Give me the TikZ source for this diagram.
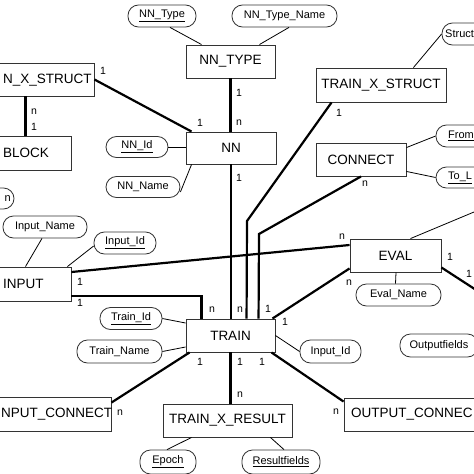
\documentclass[tikz,border=0pt]{standalone}
\usepackage{fontspec}
\setmainfont{Liberation Sans}
\usetikzlibrary{calc}
\newcommand\entfont{\fontsize{13.5}{16}\selectfont}
\newcommand\attfont{\fontsize{11}{13}\selectfont}
\newcommand\lblfont{\fontsize{10.5}{12}\selectfont}
\begin{document}
\begin{tikzpicture}[x=1pt,y=-1pt,
 ent/.style={draw=black!80,line width=0.9pt,inner sep=0pt,font=\entfont},
 attr/.style={draw=black!80,line width=0.8pt,rounded corners=10.5pt,inner sep=0pt,minimum height=22pt,font=\attfont},
 txt/.style={inner sep=0pt,font=\entfont},
 atxt/.style={inner sep=0pt,font=\attfont},
 rel/.style={line width=2.2pt},
 att/.style={line width=0.8pt},
 lbl/.style={inner sep=0pt,font=\lblfont}]
\useasboundingbox (0,0) rectangle (474,474);
\fill[white] (0,0) rectangle (474,474);

% entities
\node[ent,minimum width=89pt,minimum height=33pt] (nntype) at (230.5,61.5) {NN\_TYPE};
\node[ent,minimum width=114pt,minimum height=33pt] (nxs) at (37,79.5) {};
\node[txt,anchor=west] (nxst) at (3,80) {N\_X\_STRUCT};
\node[ent,minimum width=91pt,minimum height=34pt] (block) at (25.5,153) {};
\node[txt,anchor=west] (blockt) at (3,153) {BLOCK};
\node[ent,minimum width=90pt,minimum height=32pt] (nn) at (231,148) {NN};
\node[ent,minimum width=130pt,minimum height=34pt] (txs) at (381,85) {TRAIN\_X\_STRUCT};
\node[ent,minimum width=90pt,minimum height=33pt] (connect) at (361,159.5) {CONNECT};
\node[ent,minimum width=91pt,minimum height=33pt] (eval) at (395.5,255.5) {EVAL};
\node[ent,minimum width=91pt,minimum height=34pt] (input) at (25.5,284) {};
\node[txt,anchor=west] (inputt) at (3,284) {INPUT};
\node[ent,minimum width=89pt,minimum height=33pt] (train) at (230.5,335.5) {TRAIN};
\node[ent,minimum width=131pt,minimum height=34pt] (ic) at (45.5,414) {};
\node[txt,anchor=west] (ict) at (1,414) {NPUT\_CONNECT};
\node[ent,minimum width=129pt,minimum height=33pt] (trx) at (227.5,420.5) {TRAIN\_X\_RESULT};
\node[ent,minimum width=156pt,minimum height=33pt] (oc) at (422,414.5) {};
\node[txt,anchor=west] (oct) at (351,414.5) {OUTPUT\_CONNEC};

% attributes
\node[attr,minimum width=68pt] (nntypea) at (162,16) {\underline{NN\_Type}};
\node[attr,minimum width=105pt] (nntn) at (284.5,16) {NN\_Type\_Name};
\node[attr,minimum width=68pt] (struct) at (476,34) {};
\node[atxt,anchor=west] (structt) at (445,34) {Struct};
\node[attr,minimum width=62pt,minimum height=21pt] (nnid) at (137,147) {\underline{NN\_Id}};
\node[attr,minimum width=74pt,minimum height=21pt] (nnname) at (143,187) {NN\_Name};
\node[attr,minimum width=68pt] (from) at (470,136) {};
\node[atxt,anchor=west] (fromt) at (448,136) {\underline{From}};
\node[attr,minimum width=68pt,minimum height=21pt] (tol) at (470,177.5) {};
\node[atxt,anchor=west] (tolt) at (448,177.5) {\underline{To\_L}};
\node[attr,minimum width=68pt,minimum height=21pt] (leftn) at (-20,198.5) {};
\node[atxt,anchor=east] (leftnt) at (11,198.5) {n};
\node[attr,minimum width=84pt] (inputname) at (45,227) {Input\_Name};
\node[attr,minimum width=62pt] (inputidl) at (125,243) {\underline{Input\_Id}};
\node[attr,minimum width=62pt] (trainid) at (131,318.5) {\underline{Train\_Id}};
\node[attr,minimum width=85pt,minimum height=23pt] (trainname) at (119.5,351.5) {Train\_Name};
\node[attr,minimum width=61pt,minimum height=23pt] (inputidr) at (330.5,351.5) {Input\_Id};
\node[attr,minimum width=78pt,minimum height=23pt] (outf) at (439,345.5) {Outputfields};
\node[attr,minimum width=85pt] (evalname) at (398.5,295) {Eval\_Name};
\node[attr,minimum width=56pt,minimum height=24pt] (epoch) at (168,462) {\underline{Epoch}};
\node[attr,minimum width=78pt,minimum height=24pt] (rf) at (281,462) {\underline{Resultfields}};

% helper coordinates
\coordinate (b1) at (247,221);
\coordinate (b2) at (259,234);
\coordinate (offr) at (480,292.5);
\coordinate (offa) at (480,209.5);

% relationships
\draw[rel] (nxs.east) -- ([xshift=6pt]nn.north west);
\draw[rel] (block.north) -- (block.north |- nxs.south);
\draw[rel] (nntype.south) -- (nntype.south |- nn.north);
\draw[rel] (nn.south) -- (nn.south |- train.north);
\draw[rel] ([xshift=16pt]txs.south west) -- (b1) -- ([xshift=61pt]train.north west);
\draw[rel] (connect.south) -- (b2) -- ([xshift=73pt]train.north west);
\draw[rel] ([yshift=-12pt]input.east) -| ([xshift=16pt]train.north west);
\draw[rel] ([yshift=12pt]input.east) -- ([yshift=10.5pt]eval.west);
\draw[rel] ([xshift=-3pt]train.north east) -- ([yshift=4pt]eval.south west);
\draw[rel] ([yshift=-12pt]eval.east) -- (offr);
\draw[rel] ([xshift=4pt]train.south west) -- ([yshift=-6pt]ic.north east);
\draw[rel] (train.south) -- (train.south |- trx.north);
\draw[rel] ([xshift=-4pt]train.south east) -- ([yshift=-4pt]oc.north west);

% attribute links
\draw[att] ([xshift=8pt]nntypea.south) -- ([xshift=16pt]nntype.north west);
\draw[att] ([xshift=4.5pt]nntn.south) -- ([xshift=-16pt]nntype.north east);
\draw[att] (struct.west) -- ([xshift=-33pt]txs.north east);
\draw[att] (nnid.east) -- (nnid.east -| nn.west);
\draw[att] ([yshift=-5pt]nnname.east) -- ([xshift=6pt]nn.south west);
\draw[att] ([yshift=-5pt]connect.north east) -- (from.west);
\draw[att] ([yshift=5pt]connect.south east) -- (tol.west);
\draw[att] ([xshift=15pt]eval.north) -- (offa);
\draw[att] ([xshift=-3pt]evalname.north) -- ([xshift=0.5pt]eval.south);
\draw[att] ([xshift=-3pt]inputname.south) -- (input.north);
\draw[att] ([yshift=-3pt]inputidl.west) -- ([xshift=-4pt]input.north east);
\draw[att] (trainid.east) -- ([yshift=12.5pt]train.west);
\draw[att] (trainname.east) -- ([yshift=-11.5pt]train.west);
\draw[att] (train.east) -- (inputidr.west);
\draw[att] ([xshift=29pt]trx.south west) -- ([xshift=-1pt]epoch.north);
\draw[att] ([xshift=-22pt]trx.south east) -- ([xshift=3pt]rf.north);

% cardinality labels
\node[lbl] (l1) at (103,71) {1};
\node[lbl] (l2) at (200,123) {1};
\node[lbl] (l3) at (34,112) {n};
\node[lbl] (l4) at (34,127) {1};
\node[lbl] (l5) at (239,93) {1};
\node[lbl] (l6) at (239,123) {n};
\node[lbl] (l7) at (239,178) {1};
\node[lbl] (l8) at (339,113) {1};
\node[lbl] (l9) at (365,184) {n};
\node[lbl] (l10) at (80,282) {1};
\node[lbl] (l11) at (80,303) {1};
\node[lbl] (l12) at (212,310) {n};
\node[lbl] (l13) at (240,310) {n};
\node[lbl] (l14) at (268,309) {1};
\node[lbl] (l15) at (285,322) {1};
\node[lbl] (l16) at (342,237) {n};
\node[lbl] (l17) at (349,283) {n};
\node[lbl] (l18) at (450,257) {1};
\node[lbl] (l19) at (469,274) {1};
\node[lbl] (l20) at (200,362) {1};
\node[lbl] (l21) at (120,413) {n};
\node[lbl] (l22) at (240,362) {1};
\node[lbl] (l23) at (240,395) {n};
\node[lbl] (l24) at (262,362) {1};
\node[lbl] (l25) at (336,412) {n};
\end{tikzpicture}
\end{document}
